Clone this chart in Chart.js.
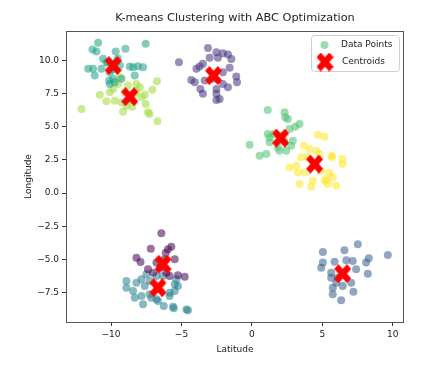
<!DOCTYPE html>
<html>
<head>
<meta charset="utf-8">
<script src="https://cdn.jsdelivr.net/npm/chart.js@4.4.1/dist/chart.umd.min.js"></script>
<style>
  html, body { margin: 0; padding: 0; background: #fff; }
  #wrap { width: 437px; height: 368px; }
</style>
</head>
<body>
<div id="wrap"><canvas id="chart" width="437" height="368"></canvas></div>
<script>
// cluster points as [latitude, longitude]
const clusterTopLeft = [
  [-10.92, 11.31], [-11.32, 10.81], [-11.04, 10.66], [-9.67, 10.66], [-8.98, 10.86],
  [-7.54, 11.24], [-10.57, 10.11], [-10.33, 9.85], [-11.63, 9.35], [-11.28, 9.35],
  [-10.68, 9.35], [-11.16, 8.85], [-10.09, 9.09], [-10.14, 8.47], [-9.86, 8.60],
  [-9.26, 8.60], [-8.67, 9.52], [-8.44, 9.47], [-8.09, 9.55], [-7.73, 9.47],
  [-8.32, 8.85], [-10.09, 8.22], [-9.74, 8.34], [-9.38, 9.60], [-9.52, 10.13],
  [-10.23, 9.82], [-9.90, 9.30], [-9.60, 9.90]
];
const clusterLime = [
  [-12.10, 6.33], [-10.80, 7.41], [-10.33, 6.91], [-9.86, 7.84], [-9.74, 6.96],
  [-9.50, 8.22], [-9.15, 6.13], [-9.26, 6.83], [-8.20, 8.22], [-7.96, 7.96],
  [-7.61, 7.41], [-7.54, 6.71], [-7.38, 6.08], [-7.07, 7.77], [-6.74, 8.42],
  [-6.71, 5.40], [-7.26, 5.96], [-8.32, 7.47], [-8.79, 8.09], [-10.09, 7.59],
  [-9.38, 8.72], [-7.84, 7.21], [-8.91, 6.58], [-8.20, 7.71], [-9.03, 7.59],
  [-8.60, 7.00], [-8.50, 6.50]
];
const clusterTopMid = [
  [-5.18, 9.85], [-3.12, 10.93], [-2.52, 10.60], [-2.06, 10.53], [-1.70, 10.43],
  [-3.00, 10.18], [-2.41, 10.18], [-1.46, 10.10], [-3.48, 9.73], [-3.71, 9.52],
  [-3.94, 9.35], [-1.58, 9.43], [-2.06, 9.10], [-4.30, 8.52], [-4.06, 8.34],
  [-3.35, 8.47], [-1.11, 8.77], [-1.06, 8.34], [-1.70, 7.96], [-3.66, 7.84],
  [-3.48, 7.47], [-2.52, 7.84], [-2.52, 7.47], [-2.29, 7.09], [-2.52, 7.01],
  [-2.06, 8.22], [-2.80, 8.60]
];
const clusterGreen = [
  [1.13, 6.26], [2.32, 6.08], [2.37, 5.70], [2.55, 5.58], [3.38, 5.20],
  [3.08, 5.00], [2.67, 4.83], [1.13, 4.45], [-0.16, 3.64], [2.91, 3.94],
  [2.79, 3.57], [1.96, 3.19], [0.55, 2.81], [1.02, 2.94], [1.26, 4.19],
  [1.26, 3.82], [1.84, 3.44], [2.44, 3.19], [1.56, 4.45], [2.00, 4.30],
  [2.30, 3.90]
];
const clusterYellow = [
  [4.68, 4.40], [5.16, 4.25], [3.69, 3.57], [4.09, 3.32], [4.57, 3.19],
  [4.80, 2.94], [3.50, 2.69], [3.93, 2.69], [5.67, 2.69], [2.67, 1.93],
  [3.15, 2.06], [3.26, 1.55], [3.74, 1.55], [4.92, 1.68], [5.51, 1.55],
  [5.74, 1.18], [5.28, 1.06], [4.33, 0.93], [3.38, 0.68], [4.21, 0.48],
  [5.16, 0.93], [6.41, 2.56], [6.45, 2.19], [5.99, 0.55], [5.39, 0.68],
  [5.70, 2.81], [4.40, 2.10]
];
const clusterBottomLeftUpper = [
  [-6.43, -3.02], [-7.18, -4.18], [-8.20, -4.86], [-7.91, -5.18], [-5.96, -4.22],
  [-5.72, -4.03], [-6.12, -4.48], [-5.48, -4.98], [-7.38, -5.73], [-7.02, -5.99],
  [-6.07, -5.99], [-5.25, -6.18], [-4.77, -6.29], [-5.84, -6.24], [-6.78, -5.23],
  [-6.20, -5.00], [-6.50, -5.60]
];
const clusterBottomLeftLower = [
  [-8.91, -6.61], [-8.91, -7.12], [-8.44, -7.37], [-8.32, -7.87], [-7.84, -7.75],
  [-8.20, -6.74], [-7.84, -6.49], [-7.61, -6.99], [-7.26, -6.61], [-7.73, -8.37],
  [-7.26, -7.62], [-6.78, -7.99], [-6.67, -8.12], [-6.26, -8.50], [-5.60, -8.55],
  [-4.65, -8.75], [-5.48, -7.37], [-5.84, -7.50], [-5.48, -6.86], [-5.25, -6.99],
  [-5.36, -6.49], [-6.31, -6.24], [-6.78, -6.24], [-7.49, -6.11], [-5.84, -7.75],
  [-7.14, -7.87], [-4.54, -8.82], [-5.55, -8.67]
];
const clusterBottomRight = [
  [7.52, -3.85], [6.57, -4.30], [5.04, -4.43], [9.65, -4.65], [5.04, -5.23],
  [4.92, -5.61], [5.87, -5.16], [6.70, -5.05], [7.16, -5.11], [8.11, -5.23],
  [8.30, -4.90], [5.63, -5.99], [8.23, -6.06], [5.99, -6.74], [7.05, -6.74],
  [5.74, -7.12], [6.45, -6.99], [5.74, -7.62], [7.21, -7.42], [6.34, -8.07],
  [5.63, -6.37], [6.10, -6.37], [7.40, -5.73]
];

const centroidLat = [-9.85, -8.67, -2.72, 2.04, 4.45, -6.31, -6.67, 6.45];
const centroidLon = [9.60, 7.26, 8.85, 4.14, 2.19, -5.35, -7.12, -6.06];

const xTicks = [-10, -5, 0, 5, 10];
const yTicks = [-7.5, -5.0, -2.5, 0.0, 2.5, 5.0, 7.5, 10.0];

const clusters = [
  clusterTopLeft, clusterLime, clusterTopMid, clusterGreen,
  clusterYellow, clusterBottomLeftUpper, clusterBottomLeftLower, clusterBottomRight
];
// viridis colours per cluster label
const clusterColors = [
  'rgba(31,161,135,0.55)', 'rgba(160,218,57,0.55)', 'rgba(70,50,126,0.55)', 'rgba(74,193,109,0.55)',
  'rgba(253,231,37,0.55)', 'rgba(68,1,84,0.55)', 'rgba(39,127,142,0.55)', 'rgba(54,92,141,0.55)'
];

const FONT = '"DejaVu Sans", "Liberation Sans", sans-serif';
const TEXT = '#222';
const minus = s => String(s).replace('-', '\u2212');

// thick filled "X" like matplotlib's marker
function makeXMarker(w, h, color) {
  const c = document.createElement('canvas');
  c.width = w; c.height = h;
  const g = c.getContext('2d');
  const pts = [[-1,-2],[0,-1],[1,-2],[2,-1],[1,0],[2,1],[1,2],[0,1],[-1,2],[-2,1],[-1,0],[-2,-1]];
  g.fillStyle = color;
  g.beginPath();
  pts.forEach(([px, py], i) => {
    const X = w / 2 + px * w / 4, Y = h / 2 + py * h / 4;
    if (i) g.lineTo(X, Y); else g.moveTo(X, Y);
  });
  g.closePath();
  g.fill();
  return c;
}
const xMarker = makeXMarker(17, 19, '#ff0000');

const decor = {
  id: 'decor',
  afterDatasetsDraw(chart) {
    const { ctx, chartArea: a } = chart;
    ctx.save();
    ctx.strokeStyle = '#555';
    ctx.lineWidth = 1;
    ctx.strokeRect(Math.round(a.left) + 0.5, Math.round(a.top) + 0.5,
      Math.round(a.right - a.left) - 1, Math.round(a.bottom - a.top));
    ctx.restore();
  },
  afterDraw(chart) {
    const { ctx, chartArea: a } = chart;
    ctx.save();
    // title
    ctx.fillStyle = TEXT;
    ctx.font = '11.3px ' + FONT;
    ctx.textAlign = 'center';
    ctx.textBaseline = 'middle';
    ctx.fillText('K-means Clustering with ABC Optimization', (a.left + a.right) / 2, 18);

    // legend box
    const bx = 311.5, by = 35.5, bw = 88, bh = 36, r = 3;
    ctx.beginPath();
    ctx.moveTo(bx + r, by);
    ctx.arcTo(bx + bw, by, bx + bw, by + bh, r);
    ctx.arcTo(bx + bw, by + bh, bx, by + bh, r);
    ctx.arcTo(bx, by + bh, bx, by, r);
    ctx.arcTo(bx, by, bx + bw, by, r);
    ctx.closePath();
    ctx.fillStyle = 'rgba(255,255,255,0.8)';
    ctx.fill();
    ctx.strokeStyle = '#d0d0d0';
    ctx.stroke();

    ctx.beginPath();
    ctx.arc(324.5, 45, 4, 0, Math.PI * 2);
    ctx.fillStyle = 'rgba(74,193,109,0.55)';
    ctx.fill();
    ctx.drawImage(xMarker, 325 - 8.5, 62 - 9.5);

    ctx.fillStyle = TEXT;
    ctx.font = '9px ' + FONT;
    ctx.textAlign = 'left';
    ctx.fillText('Data Points', 341, 45);
    ctx.fillText('Centroids', 342, 62);
    ctx.restore();
  }
};

const datasets = [{
  label: 'Centroids',
  data: centroidLat.map((x, i) => ({ x, y: centroidLon[i] })),
  pointStyle: xMarker,
  pointRadius: 9,
  backgroundColor: '#ff0000'
}];
clusters.forEach((pts, i) => {
  datasets.push({
    label: 'Data Points',
    data: pts.map(([x, y]) => ({ x, y })),
    pointStyle: 'circle',
    pointRadius: 4,
    borderWidth: 0,
    backgroundColor: clusterColors[i]
  });
});

new Chart(document.getElementById('chart'), {
  type: 'scatter',
  data: { datasets },
  options: {
    responsive: false,
    animation: false,
    devicePixelRatio: 1,
    layout: { padding: { top: 31, left: 20, right: 33, bottom: 0 } },
    plugins: {
      legend: { display: false },
      title: { display: false },
      tooltip: { enabled: false }
    },
    scales: {
      x: {
        type: 'linear',
        min: -13.2,
        max: 10.8,
        afterFit: s => { s.height = 46; },
        afterBuildTicks: s => { s.ticks = xTicks.map(v => ({ value: v })); },
        ticks: { font: { family: FONT, size: 9 }, color: TEXT, padding: 3, callback: v => minus(v) },
        grid: { drawOnChartArea: false, drawTicks: true, tickLength: 4, color: '#333' },
        border: { display: false },
        title: { display: true, text: 'Latitude', font: { family: FONT, size: 9 }, color: TEXT,
          padding: { top: 0, bottom: 12.6 } }
      },
      y: {
        type: 'linear',
        min: -9.7,
        max: 12.2,
        afterFit: s => { s.width = 46; },
        afterBuildTicks: s => { s.ticks = yTicks.map(v => ({ value: v })); },
        ticks: { font: { family: FONT, size: 9 }, color: TEXT, padding: 3, callback: v => minus(v.toFixed(1)) },
        grid: { drawOnChartArea: false, drawTicks: true, tickLength: 4, color: '#333' },
        border: { display: false },
        title: { display: true, text: 'Longitude', font: { family: FONT, size: 9 }, color: TEXT,
          padding: { top: 3.6, bottom: 0 } }
      }
    }
  },
  plugins: [decor]
});
</script>
</body>
</html>
